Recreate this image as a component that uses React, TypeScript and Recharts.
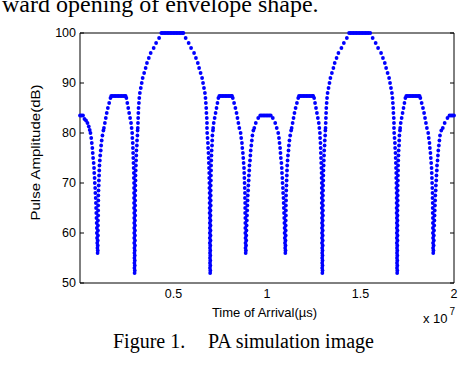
import React from 'react'
import { ScatterChart, Scatter, XAxis, YAxis } from 'recharts'

// toa in units of 1e5 us (axis reads x 1e7), pa in dB
// read off the figure lobe by lobe; every null is split in a left and right column
const startLobe = [[0, 83.5], [0.8, 83.5], [1.6, 83.5], [2.4, 82.8], [3.2, 82.5], [4.0, 82], [4.7, 81.3], [5.2, 80.6]]

const null1Left = [[5.6, 80], [6.0, 79], [6.3, 78], [6.6, 77], [6.8, 76], [7.0, 75], [7.3, 74], [7.5, 73], [7.6, 72], [7.8, 71], [7.9, 70], [8.1, 69], [8.2, 68], [8.4, 67], [8.5, 66], [8.6, 65], [8.7, 64], [8.8, 63], [8.9, 62], [9.0, 61], [9.0, 60], [9.1, 59], [9.2, 58], [9.3, 57], [9.4, 56]]
const null1Right = [[12.0, 79.5], [11.6, 78.5], [11.3, 77.5], [11.1, 76.5], [10.8, 75.5], [10.6, 74.5], [10.4, 73.5], [10.3, 72.5], [10.2, 71.5], [10.1, 70.5], [10.0, 69.5], [9.9, 68.5], [9.8, 67.5], [9.8, 66.5], [9.7, 65.5], [9.7, 64.5], [9.7, 63.5], [9.6, 62.5], [9.6, 61.5], [9.6, 60.5], [9.6, 59.5], [9.5, 58.5], [9.5, 57.5], [9.5, 56.5]]

const sideLobe1 = [[12.5, 80.5], [12.8, 81], [13.3, 82], [13.8, 83], [14.3, 84], [14.9, 85], [15.6, 86], [16.3, 87], [16.7, 87.4], [17.5, 87.4], [18.3, 87.4], [19.1, 87.4], [19.9, 87.4], [20.7, 87.4], [21.5, 87.4], [22.3, 87.4], [23.1, 87.4], [23.9, 87.4], [24.4, 87.4], [24.8, 87], [25.3, 86], [25.8, 85], [26.3, 84], [26.8, 83], [27.3, 82], [27.6, 81]]

const null2Left = [[27.9, 80], [28.0, 79], [28.2, 78], [28.3, 77], [28.4, 76], [28.5, 75], [28.6, 74], [28.7, 73], [28.8, 72], [28.8, 71], [28.9, 70], [28.9, 69], [28.9, 68], [28.9, 67], [28.9, 66], [28.9, 65], [29.0, 64], [29.0, 63], [29.0, 62], [29.0, 61], [29.0, 60], [29.0, 59], [29.0, 58], [29.1, 57], [29.1, 56], [29.1, 55], [29.1, 54], [29.1, 53], [29.2, 52]]
const null2Right = [[30.7, 79.5], [30.5, 78.5], [30.4, 77.5], [30.2, 76.5], [30.1, 75.5], [30.0, 74.5], [29.9, 73.5], [29.8, 72.5], [29.7, 71.5], [29.7, 70.5], [29.6, 69.5], [29.6, 68.5], [29.5, 67.5], [29.5, 66.5], [29.5, 65.5], [29.5, 64.5], [29.5, 63.5], [29.4, 62.5], [29.4, 61.5], [29.4, 60.5], [29.4, 59.5], [29.4, 58.5], [29.4, 57.5], [29.3, 56.5], [29.3, 55.5], [29.3, 54.5], [29.3, 53.5], [29.3, 52.5]]

const mainLobe1 = [[30.8, 80.5], [30.9, 81], [31.0, 82], [31.1, 83], [31.2, 84], [31.3, 85], [31.5, 86], [31.7, 87], [32.0, 88], [32.5, 89], [33.0, 90], [33.5, 91], [34.3, 92], [35.1, 93], [35.8, 94], [36.8, 95], [37.8, 96], [39.4, 97], [40.7, 98], [42.3, 99], [43.5, 100], [44.3, 100], [45.1, 100], [45.9, 100], [46.7, 100], [47.5, 100], [48.3, 100], [49.1, 100], [49.9, 100], [50.7, 100], [51.5, 100], [52.3, 100], [53.1, 100], [53.9, 100], [54.7, 100], [55.3, 100], [56.5, 99], [58.1, 98], [59.4, 97], [61.0, 96], [62.0, 95], [63.0, 94], [63.7, 93], [64.5, 92], [65.3, 91], [65.8, 90], [66.3, 89], [66.8, 88], [67.1, 87], [67.3, 86], [67.5, 85], [67.6, 84], [67.8, 83], [67.9, 82], [67.9, 81]]

const null3Left = [[68.0, 80], [68.2, 79], [68.4, 78], [68.5, 77], [68.7, 76], [68.8, 75], [68.9, 74], [69.0, 73], [69.1, 72], [69.1, 71], [69.2, 70], [69.2, 69], [69.3, 68], [69.3, 67], [69.3, 66], [69.3, 65], [69.3, 64], [69.4, 63], [69.4, 62], [69.4, 61], [69.4, 60], [69.4, 59], [69.4, 58], [69.5, 57], [69.5, 56], [69.5, 55], [69.5, 54], [69.5, 53], [69.6, 52]]
const null3Right = [[70.8, 79.5], [70.7, 78.5], [70.6, 77.5], [70.4, 76.5], [70.3, 75.5], [70.2, 74.5], [70.1, 73.5], [70.1, 72.5], [70.0, 71.5], [70.0, 70.5], [69.9, 69.5], [69.9, 68.5], [69.9, 67.5], [69.9, 66.5], [69.9, 65.5], [69.8, 64.5], [69.8, 63.5], [69.8, 62.5], [69.8, 61.5], [69.8, 60.5], [69.8, 59.5], [69.8, 58.5], [69.7, 57.5], [69.7, 56.5], [69.7, 55.5], [69.7, 54.5], [69.7, 53.5], [69.7, 52.5]]

const sideLobe2 = [[71.1, 80.5], [71.2, 81], [71.5, 82], [72.0, 83], [72.5, 84], [73.0, 85], [73.5, 86], [74.0, 87], [74.5, 87.4], [75.3, 87.4], [76.1, 87.4], [76.9, 87.4], [77.7, 87.4], [78.5, 87.4], [79.3, 87.4], [80.1, 87.4], [80.9, 87.4], [81.3, 87.4], [81.7, 87], [82.4, 86], [83.1, 85], [83.7, 84], [84.2, 83], [84.7, 82], [85.2, 81]]

const null4Left = [[85.9, 80], [86.2, 79], [86.6, 78], [86.8, 77], [87.1, 76], [87.3, 75], [87.5, 74], [87.7, 73], [87.8, 72], [87.9, 71], [88.0, 70], [88.1, 69], [88.2, 68], [88.2, 67], [88.3, 66], [88.3, 65], [88.3, 64], [88.4, 63], [88.4, 62], [88.4, 61], [88.4, 60], [88.5, 59], [88.5, 58], [88.5, 57], [88.6, 56]]
const null4Right = [[92.2, 79.5], [91.9, 78.5], [91.6, 77.5], [91.3, 76.5], [91.1, 75.5], [90.9, 74.5], [90.6, 73.5], [90.5, 72.5], [90.3, 71.5], [90.2, 70.5], [90.0, 69.5], [89.9, 68.5], [89.7, 67.5], [89.6, 66.5], [89.5, 65.5], [89.4, 64.5], [89.3, 63.5], [89.2, 62.5], [89.1, 61.5], [89.0, 60.5], [88.9, 59.5], [88.9, 58.5], [88.8, 57.5], [88.7, 56.5]]

const midLobe = [[92.7, 80.5], [93.2, 81], [94.0, 82], [95.3, 83], [96.4, 83.5], [97.2, 83.5], [98.0, 83.5], [98.8, 83.5], [99.6, 83.5], [100.4, 83.5], [101.2, 83.5], [102.0, 83.5], [103.1, 83], [104.4, 82], [105.2, 81]]

const null5Left = [[106.0, 80], [106.4, 79], [106.7, 78], [107.0, 77], [107.2, 76], [107.4, 75], [107.7, 74], [107.9, 73], [108.0, 72], [108.2, 71], [108.3, 70], [108.5, 69], [108.6, 68], [108.8, 67], [108.9, 66], [109.0, 65], [109.1, 64], [109.2, 63], [109.3, 62], [109.4, 61], [109.4, 60], [109.5, 59], [109.6, 58], [109.7, 57], [109.8, 56]]
const null5Right = [[112.4, 79.5], [112.0, 78.5], [111.7, 77.5], [111.5, 76.5], [111.2, 75.5], [111.0, 74.5], [110.8, 73.5], [110.7, 72.5], [110.6, 71.5], [110.5, 70.5], [110.4, 69.5], [110.3, 68.5], [110.2, 67.5], [110.2, 66.5], [110.1, 65.5], [110.1, 64.5], [110.1, 63.5], [110.0, 62.5], [110.0, 61.5], [110.0, 60.5], [110.0, 59.5], [109.9, 58.5], [109.9, 57.5], [109.9, 56.5]]

const sideLobe3 = [[112.9, 80.5], [113.2, 81], [113.7, 82], [114.2, 83], [114.7, 84], [115.3, 85], [116.0, 86], [116.7, 87], [117.1, 87.4], [117.9, 87.4], [118.7, 87.4], [119.5, 87.4], [120.3, 87.4], [121.1, 87.4], [121.9, 87.4], [122.7, 87.4], [123.5, 87.4], [124.3, 87.4], [124.7, 87.4], [125.2, 87], [125.7, 86], [126.2, 85], [126.7, 84], [127.2, 83], [127.7, 82], [128.0, 81]]

const null6Left = [[128.3, 80], [128.4, 79], [128.6, 78], [128.7, 77], [128.8, 76], [128.9, 75], [129.0, 74], [129.1, 73], [129.2, 72], [129.2, 71], [129.3, 70], [129.3, 69], [129.3, 68], [129.3, 67], [129.3, 66], [129.3, 65], [129.4, 64], [129.4, 63], [129.4, 62], [129.4, 61], [129.4, 60], [129.4, 59], [129.4, 58], [129.5, 57], [129.5, 56], [129.5, 55], [129.5, 54], [129.5, 53], [129.6, 52]]
const null6Right = [[131.1, 79.5], [130.9, 78.5], [130.8, 77.5], [130.6, 76.5], [130.5, 75.5], [130.4, 74.5], [130.3, 73.5], [130.2, 72.5], [130.1, 71.5], [130.1, 70.5], [130.0, 69.5], [130.0, 68.5], [129.9, 67.5], [129.9, 66.5], [129.9, 65.5], [129.9, 64.5], [129.9, 63.5], [129.8, 62.5], [129.8, 61.5], [129.8, 60.5], [129.8, 59.5], [129.8, 58.5], [129.8, 57.5], [129.7, 56.5], [129.7, 55.5], [129.7, 54.5], [129.7, 53.5], [129.7, 52.5]]

const mainLobe2 = [[131.2, 80.5], [131.3, 81], [131.4, 82], [131.5, 83], [131.6, 84], [131.7, 85], [131.9, 86], [132.1, 87], [132.4, 88], [132.9, 89], [133.4, 90], [133.9, 91], [134.7, 92], [135.5, 93], [136.2, 94], [137.2, 95], [138.2, 96], [139.8, 97], [141.1, 98], [142.7, 99], [143.9, 100], [144.7, 100], [145.5, 100], [146.3, 100], [147.1, 100], [147.9, 100], [148.7, 100], [149.5, 100], [150.3, 100], [151.1, 100], [151.9, 100], [152.7, 100], [153.5, 100], [154.3, 100], [155.2, 100], [156.5, 99], [158.1, 98], [159.4, 97], [161.0, 96], [162.0, 95], [163.0, 94], [163.7, 93], [164.5, 92], [165.3, 91], [165.8, 90], [166.3, 89], [166.8, 88], [167.1, 87], [167.3, 86], [167.5, 85], [167.6, 84], [167.8, 83], [167.9, 82], [167.9, 81]]

const null7Left = [[168.0, 80], [168.2, 79], [168.4, 78], [168.5, 77], [168.7, 76], [168.8, 75], [168.9, 74], [169.0, 73], [169.1, 72], [169.1, 71], [169.2, 70], [169.2, 69], [169.3, 68], [169.3, 67], [169.3, 66], [169.3, 65], [169.3, 64], [169.4, 63], [169.4, 62], [169.4, 61], [169.4, 60], [169.4, 59], [169.4, 58], [169.5, 57], [169.5, 56], [169.5, 55], [169.5, 54], [169.5, 53], [169.6, 52]]
const null7Right = [[170.8, 79.5], [170.7, 78.5], [170.6, 77.5], [170.4, 76.5], [170.3, 75.5], [170.2, 74.5], [170.1, 73.5], [170.1, 72.5], [170.0, 71.5], [170.0, 70.5], [169.9, 69.5], [169.9, 68.5], [169.9, 67.5], [169.9, 66.5], [169.9, 65.5], [169.8, 64.5], [169.8, 63.5], [169.8, 62.5], [169.8, 61.5], [169.8, 60.5], [169.8, 59.5], [169.8, 58.5], [169.7, 57.5], [169.7, 56.5], [169.7, 55.5], [169.7, 54.5], [169.7, 53.5], [169.7, 52.5]]

const sideLobe4 = [[171.1, 80.5], [171.2, 81], [171.5, 82], [172.0, 83], [172.5, 84], [173.0, 85], [173.5, 86], [174.0, 87], [174.5, 87.4], [175.3, 87.4], [176.1, 87.4], [176.9, 87.4], [177.7, 87.4], [178.5, 87.4], [179.3, 87.4], [180.1, 87.4], [180.9, 87.4], [181.6, 87.4], [182.0, 87], [182.7, 86], [183.4, 85], [184.0, 84], [184.5, 83], [185.0, 82], [185.5, 81]]

const null8Left = [[186.2, 80], [186.5, 79], [186.9, 78], [187.1, 77], [187.4, 76], [187.6, 75], [187.8, 74], [188.0, 73], [188.1, 72], [188.2, 71], [188.3, 70], [188.4, 69], [188.5, 68], [188.5, 67], [188.6, 66], [188.6, 65], [188.6, 64], [188.7, 63], [188.7, 62], [188.7, 61], [188.7, 60], [188.8, 59], [188.8, 58], [188.8, 57], [188.9, 56]]
const null8Right = [[192.5, 79.5], [192.2, 78.5], [191.9, 77.5], [191.6, 76.5], [191.4, 75.5], [191.2, 74.5], [190.9, 73.5], [190.8, 72.5], [190.6, 71.5], [190.5, 70.5], [190.3, 69.5], [190.2, 68.5], [190.0, 67.5], [189.9, 66.5], [189.8, 65.5], [189.7, 64.5], [189.6, 63.5], [189.5, 62.5], [189.4, 61.5], [189.3, 60.5], [189.2, 59.5], [189.2, 58.5], [189.1, 57.5], [189.0, 56.5]]

const endLobe = [[193.2, 80.5], [194.0, 81], [195.0, 82], [196.5, 83], [197.6, 83.5], [198.4, 83.5], [199.2, 83.5], [200.0, 83.5]]

const xTicks = [50, 100, 150, 200]
const yTicks = [50, 60, 70, 80, 90, 100]

const segments = [
  startLobe, null1Left, null1Right, sideLobe1, null2Left, null2Right, mainLobe1,
  null3Left, null3Right, sideLobe2, null4Left, null4Right, midLobe, null5Left,
  null5Right, sideLobe3, null6Left, null6Right, mainLobe2, null7Left, null7Right,
  sideLobe4, null8Left, null8Right, endLobe,
]
const pulses = segments.flat().map(([toa, pa]) => ({ toa, pa }))

const axisFont = "'Liberation Sans', Arial, Helvetica, sans-serif"
const serifFont = "'Liberation Serif', 'Times New Roman', serif"
const noLabel = () => <g />

export default function App() {
  return (
    <div style={{ position: 'absolute', left: 0, top: 0, width: 474, height: 384, background: '#fff', overflow: 'hidden' }}>
      <ScatterChart width={474} height={384} margin={{ top: 33, right: 20, bottom: 71, left: 0 }}>
        <XAxis
          xAxisId="x"
          dataKey="toa"
          type="number"
          domain={[0, 200]}
          ticks={xTicks}
          tickFormatter={(v) => String(v / 100)}
          tickLine={false}
          tickSize={0}
          tickMargin={6}
          height={30}
          axisLine={{ stroke: '#000' }}
          tick={{ fill: '#000', fontSize: 12.5, fontFamily: axisFont }}
        />
        <XAxis xAxisId="xIn" type="number" domain={[0, 200]} allowDataOverflow ticks={xTicks} mirror height={10} tickSize={4} tick={noLabel} axisLine={false} tickLine={{ stroke: '#000' }} />
        <XAxis xAxisId="xTop" orientation="top" type="number" domain={[0, 200]} allowDataOverflow ticks={xTicks} mirror height={10} tickSize={4} tick={noLabel} axisLine={{ stroke: '#000' }} tickLine={{ stroke: '#000' }} />
        <YAxis
          yAxisId="y"
          dataKey="pa"
          type="number"
          domain={[50, 100]}
          ticks={yTicks}
          tickLine={false}
          tickSize={0}
          tickMargin={4}
          width={80}
          axisLine={{ stroke: '#000' }}
          tick={{ fill: '#000', fontSize: 12.5, fontFamily: axisFont }}
        />
        <YAxis yAxisId="yIn" type="number" domain={[50, 100]} allowDataOverflow ticks={yTicks} mirror width={10} tickSize={4} tick={noLabel} axisLine={false} tickLine={{ stroke: '#000' }} />
        <YAxis yAxisId="yRight" orientation="right" type="number" domain={[50, 100]} allowDataOverflow ticks={yTicks} mirror width={10} tickSize={4} tick={noLabel} axisLine={{ stroke: '#000' }} tickLine={{ stroke: '#000' }} />
        <Scatter
          xAxisId="x"
          yAxisId="y"
          data={pulses}
          isAnimationActive={false}
          shape={(p: any) => <circle cx={p.cx} cy={p.cy} r={1.9} fill="#0000ff" />}
        />
      </ScatterChart>
      <svg width={474} height={384} style={{ position: 'absolute', left: 0, top: 0, pointerEvents: 'none' }}>
        <text x={2} y={11.5} fontFamily={serifFont} fontSize={24} fill="#000">ward opening of envelope shape.</text>
        <text x={40} y={152.5} transform="rotate(-90 40 152.5)" textAnchor="middle" fontFamily={axisFont} fontSize={13.5} textLength={136} lengthAdjust="spacingAndGlyphs" fill="#000">Pulse Amplitude(dB)</text>
        <text x={264.5} y={316.5} textAnchor="middle" fontFamily={axisFont} fontSize={13} fill="#000">Time of Arrival(µs)</text>
        <text x={423} y={322.7} fontFamily={axisFont} fontSize={13} fill="#000">x 10</text>
        <text x={449.5} y={315} fontFamily={axisFont} fontSize={10} fill="#000">7</text>
        <text x={113} y={348} fontFamily={serifFont} fontSize={20} fill="#000">Figure 1.</text>
        <text x={208} y={348} fontFamily={serifFont} fontSize={20} fill="#000">PA simulation image</text>
      </svg>
    </div>
  )
}
